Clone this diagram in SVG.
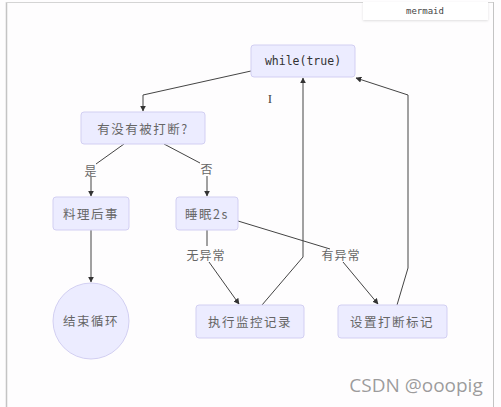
<svg xmlns="http://www.w3.org/2000/svg" width="501" height="407" viewBox="0 0 501 407">
<defs>
<marker id="arr" viewBox="0 0 10 10" refX="9" refY="5" markerWidth="6" markerHeight="6" orient="auto-start-reverse" markerUnits="userSpaceOnUse">
<path d="M0,0 L10,5 L0,10 z" fill="#333"/>
</marker>
<filter id="sh" x="-10%" y="-30%" width="120%" height="160%">
<feDropShadow dx="0" dy="1" stdDeviation="1" flood-color="#000" flood-opacity="0.12"/>
</filter>
</defs>
<style>
.node{fill:#ececff;stroke:#d2cff2;stroke-width:1}
.lbl{font-family:"Noto Sans CJK SC","Liberation Sans",sans-serif;font-size:12.5px;fill:#666;text-anchor:middle;dominant-baseline:central;letter-spacing:1.5px}
.mono{font-family:"DejaVu Sans Mono","Liberation Mono",monospace;font-size:11.5px;fill:#333;text-anchor:middle;dominant-baseline:central}
.edge{fill:none;stroke:#444;stroke-width:1}
.elbl{font-family:"Noto Sans CJK SC","Liberation Sans",sans-serif;font-size:12px;fill:#666;text-anchor:middle;dominant-baseline:central;letter-spacing:1px}
</style>
<rect x="0" y="0" width="501" height="407" fill="#fefdfe"/>
<line x1="6.5" y1="2" x2="6.5" y2="407" stroke="#c4c4c4" stroke-width="1.5"/>
<line x1="6" y1="2.5" x2="494" y2="2.5" stroke="#d4d4d4" stroke-width="1"/>
<line x1="493.5" y1="2" x2="493.5" y2="407" stroke="#c4c4c4" stroke-width="1"/>
<g id="mermaid-tab">
<rect x="363" y="2" width="125" height="18" fill="#fff" filter="url(#sh)"/>
<text x="425" y="11" class="mono" style="font-size:9px;fill:#444">mermaid</text>
</g>
<g id="edges">
<polyline class="edge" points="251,71 143,95 143,111" marker-end="url(#arr)"/>
<polyline class="edge" points="124,144 96,164"/>
<polyline class="edge" points="91,177 91,196" marker-end="url(#arr)"/>
<polyline class="edge" points="164,144 200,163"/>
<polyline class="edge" points="207,176 207,196" marker-end="url(#arr)"/>
<polyline class="edge" points="91,230 91,282" marker-end="url(#arr)"/>
<polyline class="edge" points="207,230 207,246"/>
<polyline class="edge" points="209,262 239,304" marker-end="url(#arr)"/>
<polyline class="edge" points="238,221 330,249"/>
<polyline class="edge" points="343,262 378,304" marker-end="url(#arr)"/>
<polyline class="edge" points="262,305 303,257 303,78" marker-end="url(#arr)"/>
<polyline class="edge" points="397,305 408,268 408,95 356,78" marker-end="url(#arr)"/>
</g>
<g id="n-while">
<rect class="node" x="251" y="45" width="104" height="32" rx="3"/>
<text class="mono" x="303" y="61">while(true)</text>
</g>
<g id="n-check">
<rect class="node" x="81" y="112" width="124" height="32" rx="3"/>
<text class="lbl" x="143" y="128">有没有被打断?</text>
</g>
<g id="n-cleanup">
<rect class="node" x="53" y="197" width="76" height="33" rx="3"/>
<text class="lbl" x="91" y="213">料理后事</text>
</g>
<g id="n-sleep">
<rect class="node" x="176" y="197" width="62" height="33" rx="3"/>
<text class="lbl" x="207" y="213">睡眠2s</text>
</g>
<g id="n-end">
<circle class="node" cx="91" cy="321" r="38"/>
<text class="lbl" x="91" y="320">结束循环</text>
</g>
<g id="n-log">
<rect class="node" x="196" y="305" width="108" height="33" rx="3"/>
<text class="lbl" x="250" y="321">执行监控记录</text>
</g>
<g id="n-flag">
<rect class="node" x="338" y="305" width="109" height="33" rx="3"/>
<text class="lbl" x="392" y="321">设置打断标记</text>
</g>
<g id="edge-labels">
<text class="elbl" x="91" y="170">是</text>
<text class="elbl" x="207" y="168">否</text>
<text class="elbl" x="206" y="254">无异常</text>
<text class="elbl" x="341" y="254">有异常</text>
</g>
<text x="270" y="103" font-family="Liberation Serif,serif" font-size="13" fill="#444" text-anchor="middle">I</text>
<text x="416" y="385" font-family="Open Sans,Noto Sans,sans-serif" font-size="19" fill="#8a8a8a" fill-opacity="0.85" text-anchor="middle" dominant-baseline="central">CSDN @ooopig</text>
</svg>
